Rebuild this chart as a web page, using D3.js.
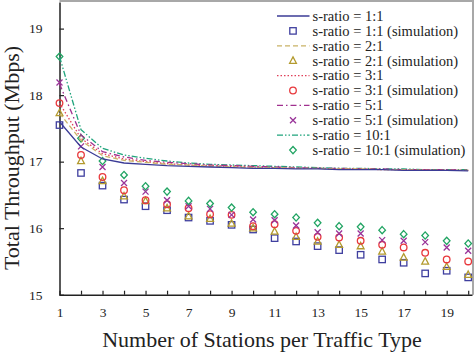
<!DOCTYPE html>
<html lang="en">
<head>
    <meta charset="UTF-8">
    <title>Total Throughput vs Stations</title>
    <style>
        body { margin: 0; background: #fff; }
        text { font-family: "Liberation Serif", "Times New Roman", serif; fill: #222; }
    </style>
</head>
<body>
    <div id="chart"></div>
    <script src="https://d3js.org/d3.v7.min.js"></script>
    <script>
        const w = 474;
        const h = 353;

        // stations per traffic type
        const stations = d3.range(1, 21);
        const xTicks = [1, 3, 5, 7, 9, 11, 13, 15, 17, 19];
        const yTicks = [15, 16, 17, 18, 19];

        // analytical curves
        const model11  = [17.60, 17.22, 17.04, 16.98, 16.96, 16.94, 16.93, 16.92, 16.91, 16.90, 16.90, 16.89, 16.89, 16.88, 16.88, 16.88, 16.87, 16.87, 16.87, 16.86];
        const model21  = [17.73, 17.32, 17.09, 17.02, 16.99, 16.96, 16.95, 16.93, 16.92, 16.91, 16.91, 16.90, 16.90, 16.89, 16.89, 16.88, 16.88, 16.87, 16.87, 16.87];
        const model31  = [17.88, 17.35, 17.12, 17.04, 17.00, 16.97, 16.95, 16.94, 16.93, 16.92, 16.91, 16.90, 16.90, 16.89, 16.89, 16.88, 16.88, 16.88, 16.87, 16.87];
        const model51  = [18.17, 17.40, 17.15, 17.07, 17.02, 16.99, 16.97, 16.95, 16.94, 16.93, 16.92, 16.91, 16.90, 16.90, 16.89, 16.89, 16.88, 16.88, 16.88, 16.87];
        const model101 = [18.58, 17.48, 17.20, 17.10, 17.05, 17.01, 16.98, 16.96, 16.95, 16.94, 16.93, 16.92, 16.91, 16.90, 16.90, 16.89, 16.89, 16.88, 16.88, 16.88];

        // simulation results
        const sim11  = [17.55, 16.83, 16.64, 16.43, 16.33, 16.27, 16.16, 16.11, 16.05, 15.98, 15.85, 15.80, 15.73, 15.67, 15.60, 15.53, 15.48, 15.32, 15.36, 15.26];
        const sim21  = [17.73, 17.01, 16.71, 16.48, 16.41, 16.30, 16.18, 16.14, 16.07, 16.00, 15.95, 15.87, 15.80, 15.75, 15.73, 15.65, 15.56, 15.50, 15.42, 15.30];
        const sim31  = [17.88, 17.10, 16.77, 16.57, 16.42, 16.36, 16.30, 16.21, 16.20, 16.03, 16.06, 15.96, 15.87, 15.86, 15.81, 15.75, 15.71, 15.63, 15.53, 15.50];
        const sim51  = [18.19, 17.23, 16.92, 16.68, 16.55, 16.42, 16.33, 16.29, 16.20, 16.13, 16.12, 16.04, 15.94, 15.92, 15.92, 15.82, 15.81, 15.79, 15.71, 15.66];
        const sim101 = [18.58, 17.35, 17.01, 16.80, 16.63, 16.55, 16.41, 16.37, 16.31, 16.24, 16.21, 16.16, 16.08, 16.03, 16.02, 15.97, 15.91, 15.89, 15.81, 15.77];

        const ratios = ['1:1', '2:1', '3:1', '5:1', '10:1'];

        const series = [
            {ratio: ratios[0], model: model11,  sim: sim11,  line: '#3b3b96', mark: '#3f3f9f', dash: null,             shape: 'square'},
            {ratio: ratios[1], model: model21,  sim: sim21,  line: '#c9b266', mark: '#b39a2e', dash: '5,3',            shape: 'triangle'},
            {ratio: ratios[2], model: model31,  sim: sim31,  line: '#e0405a', mark: '#e8383c', dash: '1.5,2',          shape: 'circle'},
            {ratio: ratios[3], model: model51,  sim: sim51,  line: '#a0308f', mark: '#993399', dash: '6,3,1.5,3',      shape: 'cross'},
            {ratio: ratios[4], model: model101, sim: sim101, line: '#1fa47c', mark: '#21a463', dash: '6,2,1.5,2,1.5,2', shape: 'diamond'}
        ];

        const margin = {top: 2, right: 1.5, bottom: 58.3, left: 59.5};

        const x = d3.scaleLinear()
            .domain([1, 20.2])
            .range([margin.left, w - margin.right]);
        const y = d3.scaleLinear()
            .domain([15, 19.4])
            .range([h - margin.bottom, margin.top]);

        const svg = d3.select('#chart')
            .append('svg')
            .attr('width', w)
            .attr('height', h);

        // grey frame on top and right
        svg.append('path')
            .attr('d', `M${margin.left},1 H${w - 1} V${h - margin.bottom}`)
            .attr('fill', 'none')
            .attr('stroke', '#a8a8a8')
            .attr('stroke-width', 2);

        // axes
        const xAxis = d3.axisBottom(x)
            .tickValues(stations)
            .tickSizeInner(-4)
            .tickSizeOuter(0)
            .tickPadding(13)
            .tickFormat(d => xTicks.includes(d) ? d : '');
        const yAxis = d3.axisLeft(y)
            .tickValues(yTicks)
            .tickSizeInner(-4.5)
            .tickSizeOuter(0)
            .tickPadding(17)
            .tickFormat(d3.format('d'));

        const gx = svg.append('g')
            .attr('transform', `translate(0,${h - margin.bottom})`)
            .call(xAxis);
        const gy = svg.append('g')
            .attr('transform', `translate(${margin.left},0)`)
            .call(yAxis);

        [gx, gy].forEach(g => {
            g.select('.domain').attr('stroke', '#222').attr('stroke-width', 1.5);
            g.selectAll('.tick line').attr('stroke', '#222').attr('stroke-width', 1.2);
            g.selectAll('.tick text')
                .style('font-family', '"Liberation Serif", serif')
                .style('font-size', '13.5px')
                .attr('fill', '#333');
        });
        gx.select('.domain').attr('d', `M${margin.left},0.5H${w - margin.right}`);

        // axis titles
        svg.append('text')
            .attr('x', 262)
            .attr('y', 346.5)
            .attr('text-anchor', 'middle')
            .style('font-size', '22px')
            .text('Number of Stations per Traffic Type');

        svg.append('text')
            .attr('transform', `translate(18.5,158) rotate(-90)`)
            .attr('text-anchor', 'middle')
            .style('font-size', '22px')
            .text('Total Throughput (Mbps)');

        // marker drawing
        const drawMarker = (g, shape, color, cx, cy) => {
            if (shape === 'square') {
                g.append('rect').attr('x', cx - 3.2).attr('y', cy - 3.2)
                    .attr('width', 6.4).attr('height', 6.4)
                    .attr('fill', 'none').attr('stroke', color).attr('stroke-width', 1.3);
            } else if (shape === 'triangle') {
                g.append('path')
                    .attr('d', `M${cx},${cy - 3.8}L${cx + 3.4},${cy + 2.6}L${cx - 3.4},${cy + 2.6}Z`)
                    .attr('fill', 'none').attr('stroke', color).attr('stroke-width', 1.3);
            } else if (shape === 'circle') {
                g.append('circle').attr('cx', cx).attr('cy', cy).attr('r', 3.3)
                    .attr('fill', 'none').attr('stroke', color).attr('stroke-width', 1.3);
            } else if (shape === 'cross') {
                g.append('path')
                    .attr('d', `M${cx - 3},${cy - 3}L${cx + 3},${cy + 3}M${cx - 3},${cy + 3}L${cx + 3},${cy - 3}`)
                    .attr('fill', 'none').attr('stroke', color).attr('stroke-width', 1.3);
            } else {
                g.append('path')
                    .attr('d', `M${cx},${cy - 3.6}L${cx + 3.3},${cy}L${cx},${cy + 3.6}L${cx - 3.3},${cy}Z`)
                    .attr('fill', 'none').attr('stroke', color).attr('stroke-width', 1.3);
            }
        };

        const line = d3.line()
            .x((d, i) => x(stations[i]))
            .y(d => y(d));

        const plot = svg.append('g');

        // simulation markers first, curves on top
        series.forEach(s => {
            const g = plot.append('g');
            s.sim.forEach((v, i) => drawMarker(g, s.shape, s.mark, x(stations[i]), y(v)));
        });
        series.slice().reverse().forEach(s => {
            plot.append('path')
                .datum(s.model)
                .attr('d', line)
                .attr('fill', 'none')
                .attr('stroke', s.line)
                .attr('stroke-width', 1.3)
                .attr('stroke-dasharray', s.dash);
        });

        // legend
        const legend = svg.append('g');
        const rowH = 14.9;
        series.forEach((s, k) => {
            const y1 = 16 + rowH * (2 * k);
            const y2 = 16 + rowH * (2 * k + 1);
            legend.append('line')
                .attr('x1', 277).attr('x2', 309.5)
                .attr('y1', y1).attr('y2', y1)
                .attr('stroke', s.line)
                .attr('stroke-width', 1.3)
                .attr('stroke-dasharray', s.dash);
            legend.append('text')
                .attr('x', 312.5).attr('y', y1 + 4.8)
                .style('font-size', '14.5px')
                .text(`s-ratio = ${s.ratio}`);
            drawMarker(legend, s.shape, s.mark, 293, y2);
            legend.append('text')
                .attr('x', 312.5).attr('y', y2 + 4.8)
                .style('font-size', '14.5px')
                .text(`s-ratio = ${s.ratio} (simulation)`);
        });
    </script>
</body>
</html>
